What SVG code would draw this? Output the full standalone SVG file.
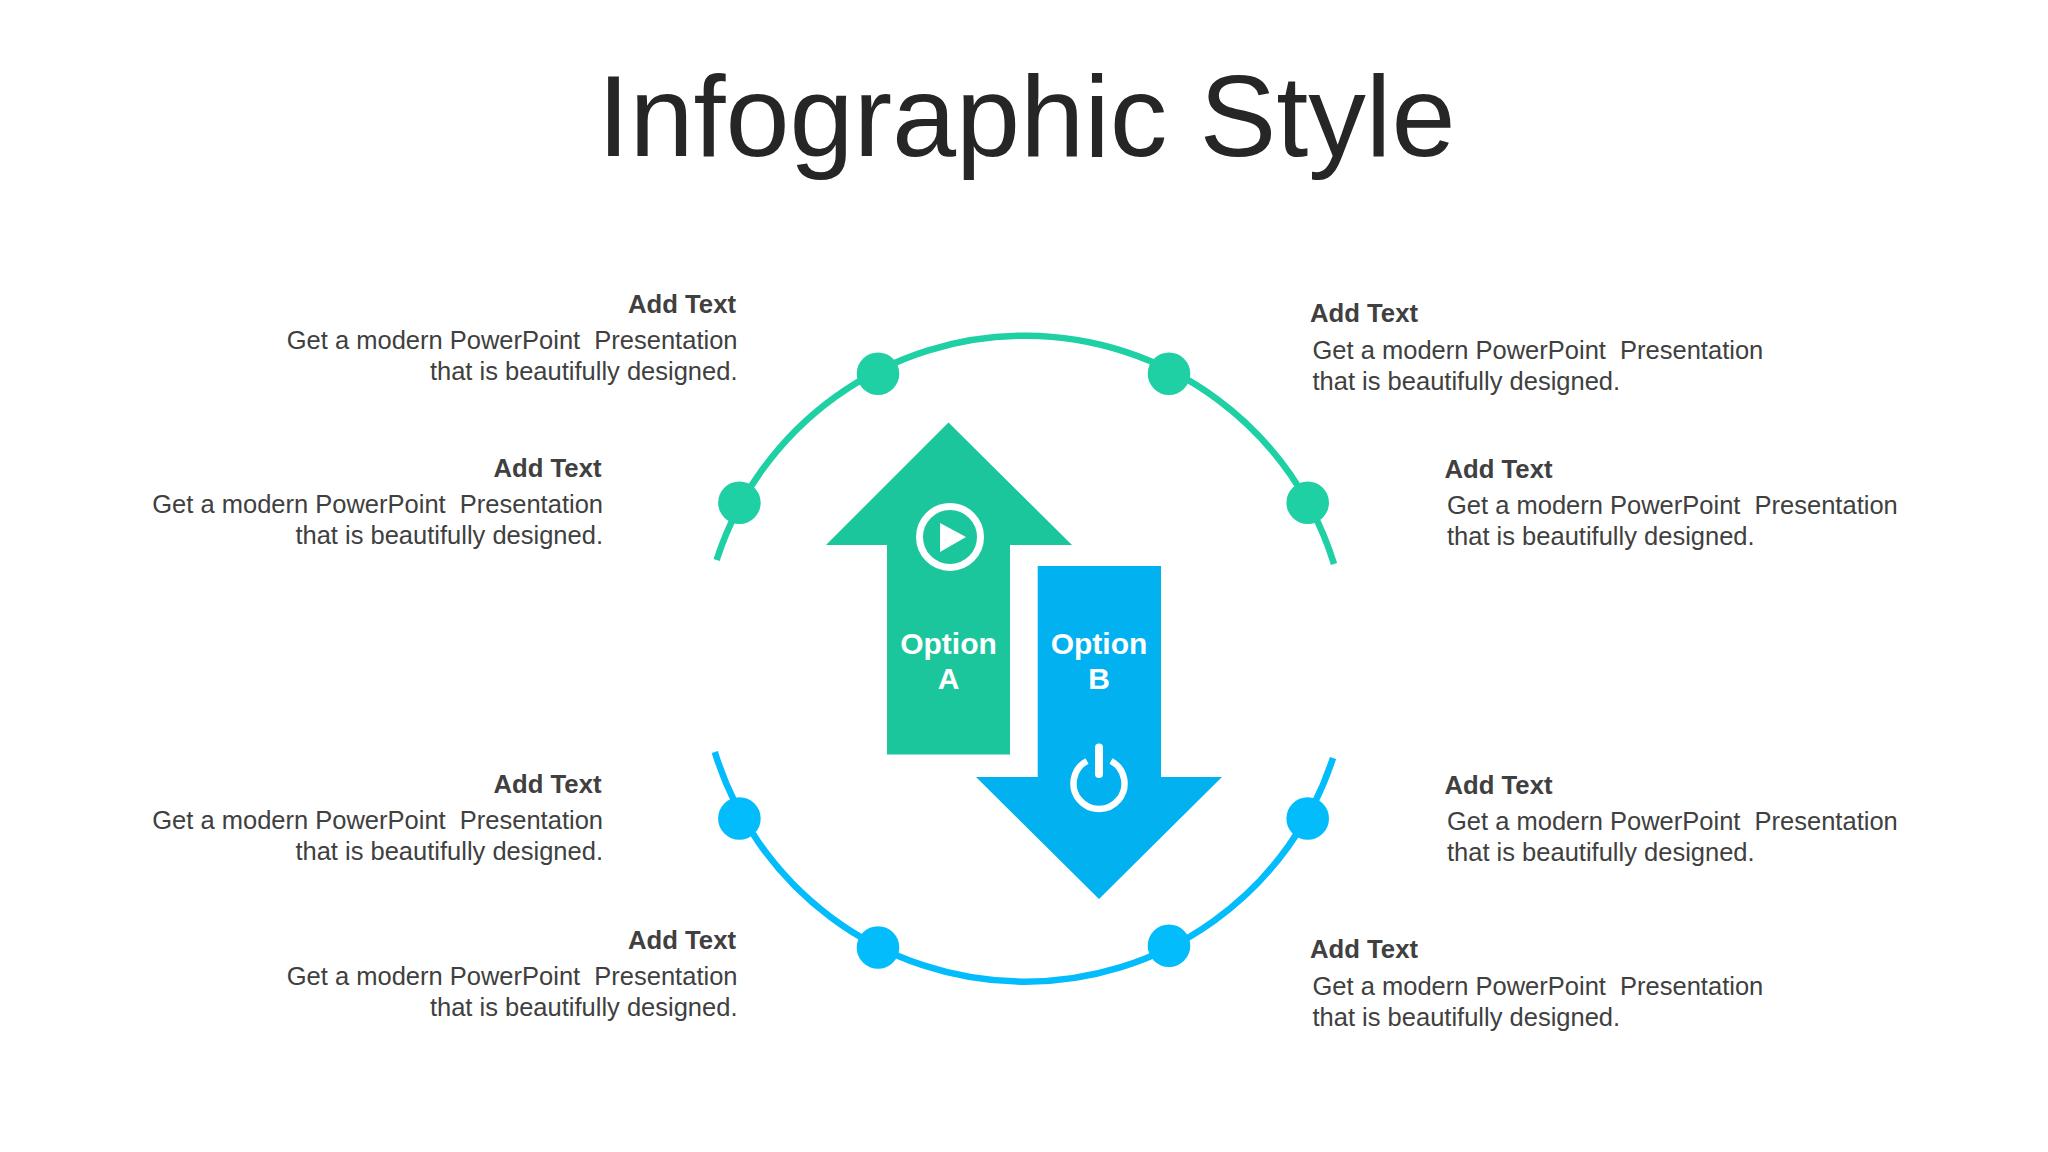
<svg xmlns="http://www.w3.org/2000/svg" width="2048" height="1152" viewBox="0 0 2048 1152">
<style>
text{font-family:"Liberation Sans",Arial,sans-serif;fill:#404040;white-space:pre}
.t{font-size:115.2px;fill:#262626;text-anchor:middle}
.h{font-size:25.7px;font-weight:700}
.b{font-size:25.5px}
.l{text-anchor:end}
.o{font-size:30px;font-weight:700;fill:#fff;text-anchor:middle}
.ag{fill:none;stroke:#1ed0a3;stroke-width:6.5}
.ab{fill:none;stroke:#02bcfc;stroke-width:6.5}
.dg{fill:#1ed0a3}
.db{fill:#02bcfc}
.ic{fill:none;stroke:#fff}
</style>
<rect width="2048" height="1152" fill="#fff"/>
<text class="t" x="1026.5" y="156">Infographic Style</text>
<g id="connectors">
<path class="ag" d="M716.6 560A323.7 323.7 0 0 1 1334 564"/>
<path class="ab" d="M714.8 752A324.1 324.1 0 0 0 1333 758"/>
</g>
<g id="arrow-a">
<path fill="#1cc69c" d="M948.5 422.5L1072 545H1010V754.5H887V545H826Z"/>
<circle class="ic" cx="950" cy="537" r="30.5" stroke-width="7"/>
<path fill="#fff" d="M940 523L966 537L940 552Z"/>
<text class="o" x="948.5" y="653.5">Option</text>
<text class="o" x="948.5" y="689">A</text>
</g>
<g id="arrow-b">
<path fill="#02b2f0" d="M1037.7 566H1161V777H1222L1099 899L976 777H1037.7Z"/>
<path class="ic" stroke-width="6.5" d="M1087 761A25.5 25.5 0 1 0 1111 761"/>
<line x1="1099" y1="747.5" x2="1099" y2="774" stroke="#fff" stroke-width="8" stroke-linecap="round"/>
<text class="o" x="1099" y="653.5">Option</text>
<text class="o" x="1099" y="689">B</text>
</g>
<g id="node-tl1"><circle class="dg" cx="878" cy="373.7" r="21.3"/>
<text class="h l" x="736" y="312.5">Add Text</text><text class="b l" x="737.5" y="349">Get a modern PowerPoint  Presentation</text><text class="b l" x="737.5" y="380">that is beautifully designed.</text></g>
<g id="node-tl2"><circle class="dg" cx="739.4" cy="502.7" r="21.3"/>
<text class="h l" x="601.5" y="477">Add Text</text><text class="b l" x="603" y="513">Get a modern PowerPoint  Presentation</text><text class="b l" x="603" y="544">that is beautifully designed.</text></g>
<g id="node-tr1"><circle class="dg" cx="1169" cy="373.7" r="21.3"/>
<text class="h" x="1310" y="322">Add Text</text><text class="b" x="1312.5" y="359">Get a modern PowerPoint  Presentation</text><text class="b" x="1312.5" y="390">that is beautifully designed.</text></g>
<g id="node-tr2"><circle class="dg" cx="1307.7" cy="502.7" r="21.3"/>
<text class="h" x="1444.5" y="478">Add Text</text><text class="b" x="1447" y="514">Get a modern PowerPoint  Presentation</text><text class="b" x="1447" y="545">that is beautifully designed.</text></g>
<g id="node-bl1"><circle class="db" cx="739.4" cy="818.5" r="21.3"/>
<text class="h l" x="601.5" y="793">Add Text</text><text class="b l" x="603" y="829">Get a modern PowerPoint  Presentation</text><text class="b l" x="603" y="860">that is beautifully designed.</text></g>
<g id="node-bl2"><circle class="db" cx="878" cy="947.5" r="21.3"/>
<text class="h l" x="736" y="949">Add Text</text><text class="b l" x="737.5" y="985">Get a modern PowerPoint  Presentation</text><text class="b l" x="737.5" y="1016">that is beautifully designed.</text></g>
<g id="node-br1"><circle class="db" cx="1307.7" cy="818.5" r="21.3"/>
<text class="h" x="1444.5" y="794">Add Text</text><text class="b" x="1447" y="830">Get a modern PowerPoint  Presentation</text><text class="b" x="1447" y="861">that is beautifully designed.</text></g>
<g id="node-br2"><circle class="db" cx="1169" cy="945.7" r="21.3"/>
<text class="h" x="1310" y="958">Add Text</text><text class="b" x="1312.5" y="995">Get a modern PowerPoint  Presentation</text><text class="b" x="1312.5" y="1026">that is beautifully designed.</text></g>
</svg>
